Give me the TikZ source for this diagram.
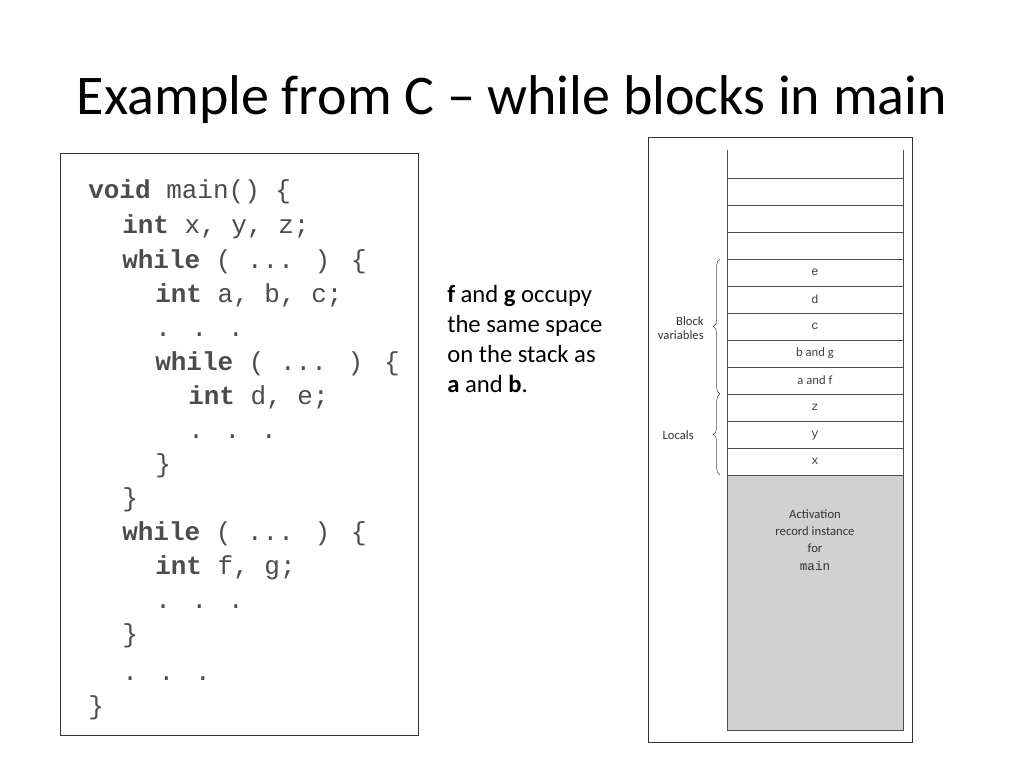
\documentclass[tikz,border=0pt]{standalone}
\usepackage{fontspec}
\setmainfont{Carlito}
\newfontfamily\codefont{Liberation Mono}
\usetikzlibrary{decorations.pathreplacing}
\begin{document}
\begin{tikzpicture}[x=0.75pt,y=-0.75pt,
  code/.style={anchor=base west,inner sep=0,font=\codefont\fontsize{19.5}{20}\selectfont,text=black!70},
  mid/.style={anchor=base west,inner sep=0,font=\fontsize{18.5}{19}\selectfont},
  cell/.style={font=\codefont\fontsize{9}{10}\selectfont,text=black!75,inner sep=0},
  lbl/.style={font=\fontsize{9.5}{11}\selectfont,text=black!80,inner sep=0,align=right},
  bracedeco/.style={black!70,decorate,decoration={brace,amplitude=5pt}}]
\useasboundingbox (0,0) rectangle (1024,768);
\fill[white] (0,0) rectangle (1024,768);
\node[font=\fontsize{42}{46}\selectfont] (title) at (512,100) {Example from C -- while blocks in main};
% code box
\draw[black!80] (60,153) rectangle (418,735);
\node[code] (l1) at (88,198) {\textbf{void} main() \{};
\node[code] (l2) at (122,233) {\textbf{int} x, y, z;};
\node[code] (l3) at (122,268) {\textbf{while} ( ... ) \{};
\node[code] (l4) at (155,302) {\textbf{int} a, b, c;};
\node[code] (l5) at (155,336) {. . .};
\node[code] (l6) at (155,370) {\textbf{while} ( ... ) \{};
\node[code] (l7) at (188,404) {\textbf{int} d, e;};
\node[code] (l8) at (188,438) {. . .};
\node[code] (l9) at (155,472) {\}};
\node[code] (l10) at (122,506) {\}};
\node[code] (l11) at (122,540) {\textbf{while} ( ... ) \{};
\node[code] (l12) at (155,574) {\textbf{int} f, g;};
\node[code] (l13) at (155,608) {. . .};
\node[code] (l14) at (122,642) {\}};
\node[code] (l15) at (122,680) {. . .};
\node[code] (l16) at (88,714) {\}};
% middle text
\node[mid] (m1) at (447,302) {\textbf{f} and \textbf{g} occupy};
\node[mid] (m2) at (447,332) {the same space};
\node[mid] (m3) at (447,362) {on the stack as};
\node[mid] (m4) at (447,392) {\textbf{a} and \textbf{b}.};
% stack box
\draw[black!80] (648,137) rectangle (912,742);
\fill[black!18] (727,475) rectangle (903,730);
\draw[black!70] (727,150) -- (727,730) -- (903,730) -- (903,150);
\foreach \y in {178,205,232,259,286,313,340,367,394,421,448,475}
  \draw[black!70] (727,\y) -- (903,\y);
\node[cell] (e) at (815,272) {e};
\node[cell] (d) at (815,299) {d};
\node[cell] (c) at (815,326) {c};
\node[cell,font=\fontsize{9.5}{10}\selectfont] (bg) at (815,353) {b and g};
\node[cell,font=\fontsize{9.5}{10}\selectfont] (af) at (815,380) {a and f};
\node[cell] (z) at (815,407) {z};
\node[cell] (y) at (815,436) {y};
\node[cell] (x) at (815,461) {x};
\node[font=\fontsize{9.5}{13}\selectfont,align=center,text=black!80] (act) at (815,540) {Activation\\record instance\\for\\{\codefont main}};
\draw[bracedeco] (720,394) -- (720,259);
\draw[bracedeco] (720,475) -- (720,394);
\node[lbl,anchor=east] (bv) at (704,328) {Block\\variables};
\node[lbl,anchor=east] (loc) at (694,435) {Locals};
\end{tikzpicture}
\end{document}
